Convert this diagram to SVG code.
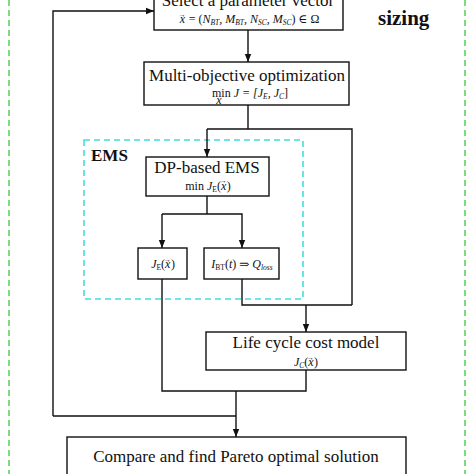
<svg xmlns="http://www.w3.org/2000/svg" width="474" height="474" viewBox="0 0 474 474">
<style>
.box{fill:#fff;stroke:#111;stroke-width:1.4}
.ln{fill:none;stroke:#111;stroke-width:1.4}
.t{font-family:"Liberation Serif","DejaVu Serif",serif;fill:#111;text-anchor:middle;font-size:17px}
.m{font-family:"Liberation Serif","DejaVu Serif",serif;fill:#111;font-style:italic;text-anchor:middle;font-size:12px}
.s{font-size:7.5px}
.v{font-size:7px;font-style:normal}
.b{font-family:"Liberation Serif","DejaVu Serif",serif;font-weight:bold;fill:#111}
</style>
<defs>
<marker id="ah" viewBox="0 0 10 10" refX="10" refY="5" markerWidth="8" markerHeight="8" markerUnits="userSpaceOnUse" orient="auto">
<path d="M0,1 L10,5 L0,9 z" fill="#111"/>
</marker>
</defs>
<rect width="474" height="474" fill="#fff"/>
<g id="sizing-frame">
<line x1="9" y1="0" x2="9" y2="474" stroke="#5ad45a" stroke-width="1.6" stroke-dasharray="6,4"/>
<line x1="465" y1="0" x2="465" y2="474" stroke="#5ad45a" stroke-width="1.6" stroke-dasharray="6,4"/>
<text class="b" x="378" y="25" font-size="21">sizing</text>
</g>
<g id="ems-frame">
<rect x="84" y="140" width="219" height="159" fill="none" stroke="#44dede" stroke-width="1.6" stroke-dasharray="6,4"/>
<text class="b" x="91" y="161" font-size="17">EMS</text>
</g>
<g id="connectors">
<path class="ln" d="M53,416 L53,11 L154,11" marker-end="url(#ah)"/>
<path class="ln" d="M248,30 L248,62" marker-end="url(#ah)"/>
<path class="ln" d="M248,105 L248,129"/>
<path class="ln" d="M207,129 L352,129 L352,305"/>
<path class="ln" d="M207,129 L207,157" marker-end="url(#ah)"/>
<path class="ln" d="M207,196 L207,214"/>
<path class="ln" d="M162,214 L162,248" marker-end="url(#ah)"/>
<path class="ln" d="M162,214 L242,214 L242,248" marker-end="url(#ah)"/>
<path class="ln" d="M242,279 L242,305 L352,305"/>
<path class="ln" d="M306,305 L306,332" marker-end="url(#ah)"/>
<path class="ln" d="M162,279 L162,391 L306,391 L306,370"/>
<path class="ln" d="M53,416 L236,416"/>
<path class="ln" d="M236,391 L236,437" marker-end="url(#ah)"/>
</g>
<g id="select">
<rect class="box" x="154" y="-10" width="189" height="40"/>
<text class="t" x="248" y="6">Select a parameter vector</text>
<text class="m" x="249" y="23">x<tspan class="v" dx="-6.5" dy="-6.5">→</tspan><tspan font-style="normal" dy="6.5"> = (</tspan>N<tspan class="s" dy="2">BT</tspan><tspan dy="-2">, M</tspan><tspan class="s" dy="2">BT</tspan><tspan dy="-2">, N</tspan><tspan class="s" dy="2">SC</tspan><tspan dy="-2">, M</tspan><tspan class="s" dy="2">SC</tspan><tspan dy="-2" font-style="normal">) ∈ Ω</tspan></text>
</g>
<g id="moo">
<rect class="box" x="144" y="62" width="205" height="43"/>
<text class="t" x="247" y="81">Multi-objective optimization</text>
<text class="m" x="250" y="97"><tspan font-style="normal">min</tspan> J = [J<tspan class="s" dy="2">E</tspan><tspan dy="-2">, J</tspan><tspan class="s" dy="2">C</tspan><tspan dy="-2" font-style="normal">]</tspan></text>
<text class="m" x="219" y="104" font-size="6">x</text>
</g>
<g id="dp">
<rect class="box" x="146" y="157" width="123" height="39"/>
<text class="t" x="207" y="173">DP-based EMS</text>
<text class="m" x="208" y="190" font-size="13"><tspan font-style="normal">min </tspan>J<tspan class="s" dy="2" font-style="normal">E</tspan><tspan dy="-2" font-style="normal">(</tspan>x<tspan class="v" dx="-6.5" dy="-7">→</tspan><tspan font-style="normal" dy="7">)</tspan></text>
</g>
<g id="je">
<rect class="box" x="138" y="248" width="49" height="31"/>
<text class="m" x="163" y="268">J<tspan class="s" dy="2" font-style="normal">E</tspan><tspan dy="-2" font-style="normal">(</tspan>x<tspan class="v" dx="-6.5" dy="-6.5">→</tspan><tspan font-style="normal" dy="6.5">)</tspan></text>
</g>
<g id="ibt">
<rect class="box" x="204" y="248" width="75" height="31"/>
<text class="m" x="242" y="268">I<tspan class="s" dy="2" font-style="normal">BT</tspan><tspan dy="-2" font-style="normal">(</tspan>t<tspan font-style="normal">) ⇒ </tspan>Q<tspan class="s" dy="2">loss</tspan></text>
</g>
<g id="lcc">
<rect class="box" x="206" y="332" width="200" height="38"/>
<text class="t" x="306" y="348">Life cycle cost model</text>
<text class="m" x="306" y="366">J<tspan class="s" dy="2">C</tspan><tspan dy="-2" font-style="normal">(</tspan>x<tspan class="v" dx="-6.5" dy="-6.5">→</tspan><tspan font-style="normal" dy="6.5">)</tspan></text>
</g>
<g id="pareto">
<rect class="box" x="67" y="437" width="339" height="50"/>
<text class="t" x="236" y="462" font-size="17.5">Compare and find Pareto optimal solution</text>
</g>
</svg>
